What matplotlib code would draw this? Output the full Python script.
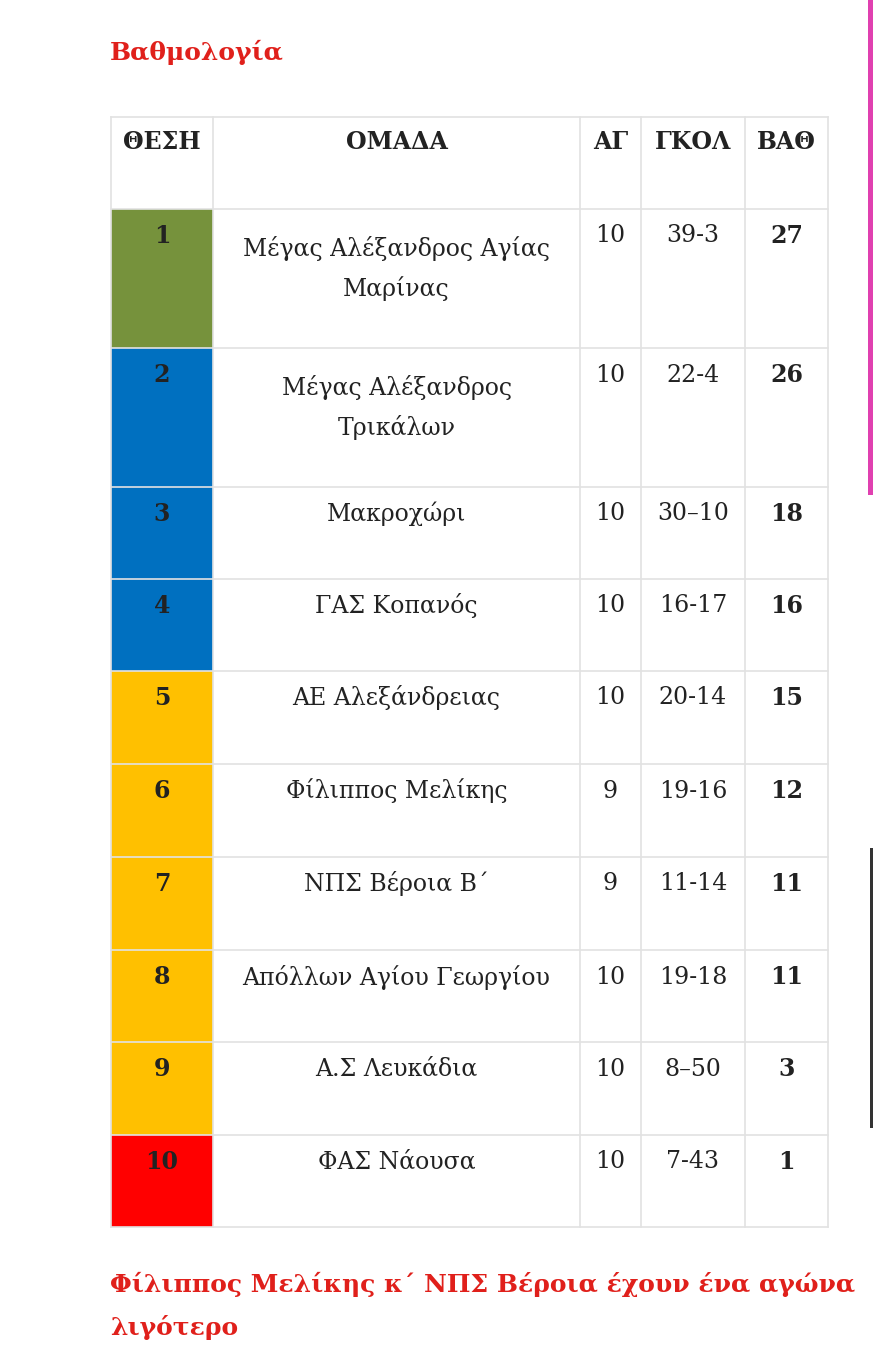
import matplotlib
matplotlib.use("Agg")
import matplotlib.pyplot as plt
from matplotlib.patches import Rectangle

title = "Βαθμολογία"
headers = ["ΘΕΣΗ", "ΟΜΑΔΑ", "ΑΓ", "ΓΚΟΛ", "ΒΑΘ"]
positions = ["1", "2", "3", "4", "5", "6", "7", "8", "9", "10"]
teams = ["Μέγας Αλέξανδρος Αγίας\nΜαρίνας", "Μέγας Αλέξανδρος\nΤρικάλων", "Μακροχώρι",
         "ΓΑΣ Κοπανός", "ΑΕ Αλεξάνδρειας", "Φίλιππος Μελίκης", "ΝΠΣ Βέροια Β΄",
         "Απόλλων Αγίου Γεωργίου", "Α.Σ Λευκάδια", "ΦΑΣ Νάουσα"]
played = [10, 10, 10, 10, 10, 9, 9, 10, 10, 10]
goals = ["39-3", "22-4", "30–10", "16-17", "20-14", "19-16", "11-14", "19-18", "8–50", "7-43"]
points = [27, 26, 18, 16, 15, 12, 11, 11, 3, 1]
zone_colors = ["#76923C", "#0070C0", "#0070C0", "#0070C0", "#FFC000", "#FFC000",
               "#FFC000", "#FFC000", "#FFC000", "#FF0000"]
footer = "Φίλιππος Μελίκης κ΄ ΝΠΣ Βέροια έχουν ένα αγώνα\nλιγότερο"

fig = plt.figure(figsize=(8.73, 13.72), dpi=100)
ax = fig.add_axes([0, 0, 1, 1])
ax.set_xlim(0, 873); ax.set_ylim(1372, 0); ax.axis("off")

FONT = "DejaVu Serif"
RED = "#E0201B"
TXT = "#222222"
fs = 17

ax.text(110, 52, title, color=RED, fontsize=18, fontweight="bold", family=FONT, va="center")

cols = [111, 213, 580, 641, 745, 828]
rows = [117, 209, 348, 487, 579, 671, 764, 857, 950, 1042, 1135, 1227]
grid = "#e2e2e2"

for i, c in enumerate(zone_colors):
    ax.add_patch(Rectangle((cols[0], rows[i+1]), cols[1]-cols[0], rows[i+2]-rows[i+1],
                           facecolor=c, edgecolor="none"))
for x in cols:
    ax.plot([x, x], [rows[0], rows[-1]], color=grid, lw=1.2)
for y in rows:
    ax.plot([cols[0], cols[-1]], [y, y], color=grid, lw=1.2)

cx = [(cols[i]+cols[i+1])/2 for i in range(5)]
for j, h in enumerate(headers):
    ax.text(cx[j], 142, h, ha="center", va="center", fontsize=fs, fontweight="bold",
            family=FONT, color=TXT)

for i in range(len(teams)):
    y = rows[i+1] + 27
    ax.text(cx[0], y, positions[i], ha="center", va="center", fontsize=fs, fontweight="bold", family=FONT, color=TXT)
    ax.text(cx[1], y, teams[i], ha="center", va="top", fontsize=fs, family=FONT, color=TXT,
            linespacing=1.75, transform=ax.transData) if "\n" in teams[i] else \
        ax.text(cx[1], y, teams[i], ha="center", va="center", fontsize=fs, family=FONT, color=TXT)
    ax.text(cx[2], y, str(played[i]), ha="center", va="center", fontsize=fs, family=FONT, color=TXT)
    ax.text(cx[3], y, goals[i], ha="center", va="center", fontsize=fs, family=FONT, color=TXT)
    ax.text(cx[4], y, str(points[i]), ha="center", va="center", fontsize=fs, fontweight="bold", family=FONT, color=TXT)

ax.text(110, 1306, footer, color=RED, fontsize=18, fontweight="bold", family=FONT,
        va="center", linespacing=1.9)

# right-edge fragments
ax.add_patch(Rectangle((868, 0), 5, 495, facecolor="#e040b0", edgecolor="none"))
ax.add_patch(Rectangle((870, 848), 3, 280, facecolor="#333333", edgecolor="none"))

fig.savefig("out.png", dpi=100)
